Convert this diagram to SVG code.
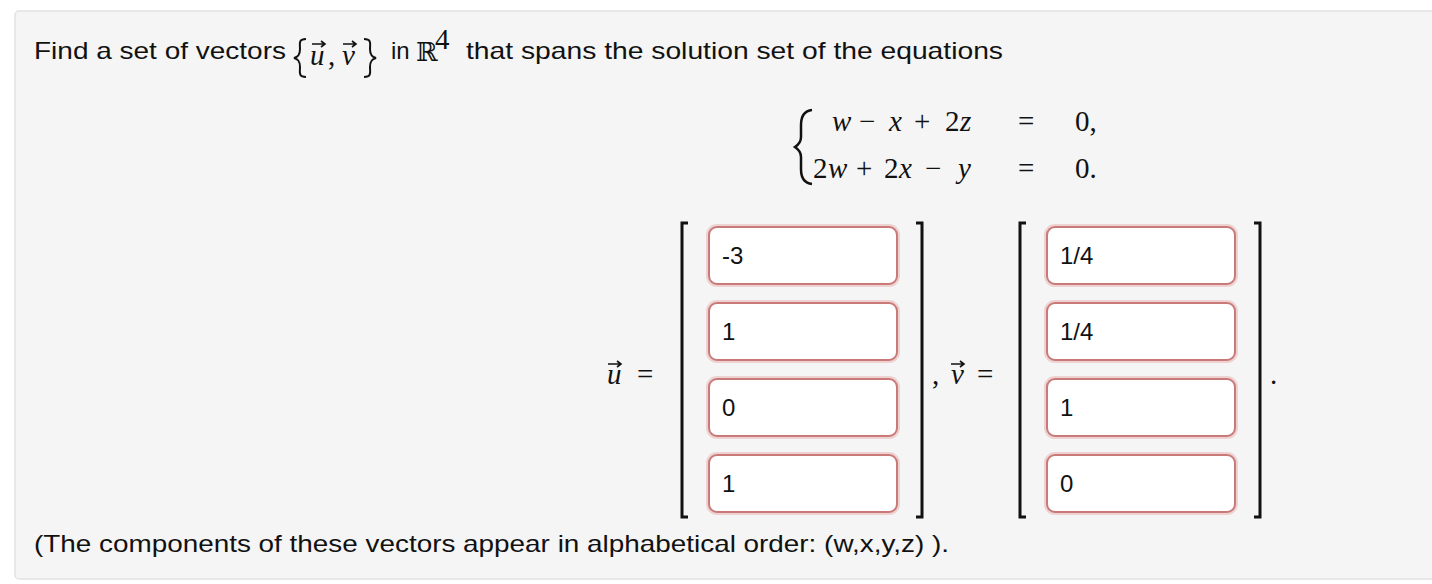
<svg xmlns="http://www.w3.org/2000/svg" width="1432" height="584" viewBox="0 0 1432 584">
<defs>
<style>
.t{font-family:"Liberation Sans",Arial,sans-serif;font-size:24px;fill:#111}
.m{font-family:"Liberation Serif","DejaVu Serif",serif;font-size:29px;fill:#111}
.mi{font-family:"Liberation Serif","DejaVu Serif",serif;font-size:29px;font-style:italic;fill:#111}
.box{fill:#fff;stroke:#c97a78;stroke-width:2}
.glow{fill:none;stroke:#e8b5b4;stroke-width:6;opacity:0.55}
.br{fill:none;stroke:#111;stroke-width:3}
.ar{fill:none;stroke:#111;stroke-width:1.6}
</style>
<path id="arr" d="M0,0 H13 M9,-3 L13,0 L9,3"/>
</defs>
<rect x="0" y="0" width="1432" height="584" fill="#fff"/>
<rect x="15" y="11" width="1430" height="568" rx="4" fill="#f5f5f5" stroke="#e2e2e2" stroke-width="1.5"/>
<text class="t" x="34" y="59" textLength="252" lengthAdjust="spacingAndGlyphs">Find a set of vectors</text>
<path d="M306,39 C298,39 300,44 300,49 C300,55 298,57 294,58 C298,59 300,61 300,67 C300,72 298,77 306,77" fill="none" stroke="#111" stroke-width="2"/>
<text class="mi" x="310" y="65">u</text><use href="#arr" x="312" y="44" class="ar"/>
<text class="m" x="328" y="65">,</text>
<text class="mi" x="342" y="65">v</text><use href="#arr" x="343" y="44" class="ar"/>
<path d="M364,39 C372,39 370,44 370,49 C370,55 372,57 376,58 C372,59 370,61 370,67 C370,72 372,77 364,77" fill="none" stroke="#111" stroke-width="2"/>
<text class="t" x="391" y="59">in</text>
<text x="416" y="61" font-family="DejaVu Serif,serif" font-size="26" fill="#111">ℝ</text>
<text class="m" x="435" y="49" font-size="19">4</text>
<text class="t" x="466" y="59" textLength="537" lengthAdjust="spacingAndGlyphs">that spans the solution set of the equations</text>
<g id="system">
<path d="M812,110 C803,111 801,118 801,125 V137 C801,142 798,145 795,147 C798,149 801,152 801,157 V169 C801,176 803,183 812,184" fill="none" stroke="#111" stroke-width="2.5"/>
<text class="mi" x="832" y="131">w</text><text class="m" x="859" y="131">−</text><text class="mi" x="889" y="131">x</text><text class="m" x="914" y="131">+</text><text class="m" x="945" y="131">2</text><text class="mi" x="960" y="131">z</text>
<text class="m" x="1018" y="131">=</text><text class="m" x="1075" y="131">0,</text>
<text class="m" x="813" y="178">2</text><text class="mi" x="828" y="178">w</text><text class="m" x="856" y="178">+</text><text class="m" x="884" y="178">2</text><text class="mi" x="899" y="178">x</text><text class="m" x="925" y="178">−</text><text class="mi" x="958" y="178">y</text>
<text class="m" x="1018" y="178">=</text><text class="m" x="1075" y="178">0.</text>
</g>
<g id="u-label"><text class="mi" x="607" y="384">u</text><use href="#arr" x="608" y="364" class="ar"/><text class="m" x="637" y="384">=</text></g>
<g id="u-vector">
<path class="br" d="M688,223 H682 V517 H688"/>
<path class="br" d="M916,223 H922 V517 H916"/>
<g id="u1"><rect class="glow" x="709" y="227" width="188" height="57" rx="8"/><rect class="box" x="709" y="227" width="188" height="57" rx="8"/><text class="t" x="722" y="264">-3</text></g>
<g id="u2"><rect class="glow" x="709" y="303" width="188" height="57" rx="8"/><rect class="box" x="709" y="303" width="188" height="57" rx="8"/><text class="t" x="722" y="340">1</text></g>
<g id="u3"><rect class="glow" x="709" y="379" width="188" height="57" rx="8"/><rect class="box" x="709" y="379" width="188" height="57" rx="8"/><text class="t" x="722" y="416">0</text></g>
<g id="u4"><rect class="glow" x="709" y="455" width="188" height="57" rx="8"/><rect class="box" x="709" y="455" width="188" height="57" rx="8"/><text class="t" x="722" y="492">1</text></g>
</g>
<g id="v-label"><text class="m" x="932" y="384">,</text><text class="mi" x="951" y="384">v</text><use href="#arr" x="951" y="364" class="ar"/><text class="m" x="977" y="384">=</text></g>
<g id="v-vector">
<path class="br" d="M1026,223 H1020 V517 H1026"/>
<path class="br" d="M1254,223 H1260 V517 H1254"/>
<g id="v1"><rect class="glow" x="1047" y="227" width="188" height="57" rx="8"/><rect class="box" x="1047" y="227" width="188" height="57" rx="8"/><text class="t" x="1060" y="264">1/4</text></g>
<g id="v2"><rect class="glow" x="1047" y="303" width="188" height="57" rx="8"/><rect class="box" x="1047" y="303" width="188" height="57" rx="8"/><text class="t" x="1060" y="340">1/4</text></g>
<g id="v3"><rect class="glow" x="1047" y="379" width="188" height="57" rx="8"/><rect class="box" x="1047" y="379" width="188" height="57" rx="8"/><text class="t" x="1060" y="416">1</text></g>
<g id="v4"><rect class="glow" x="1047" y="455" width="188" height="57" rx="8"/><rect class="box" x="1047" y="455" width="188" height="57" rx="8"/><text class="t" x="1060" y="492">0</text></g>
</g>
<text class="m" x="1270" y="384">.</text>
<text class="t" x="34" y="552" textLength="915" lengthAdjust="spacingAndGlyphs">(The components of these vectors appear in alphabetical order: (w,x,y,z) ).</text>
<g id="connectors"/>
</svg>
